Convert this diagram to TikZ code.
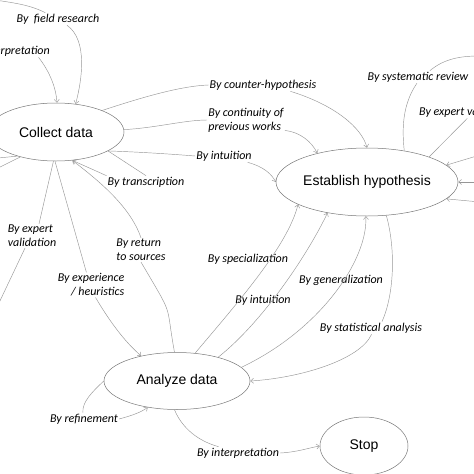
\documentclass[tikz,border=0pt]{standalone}
\usepackage{fontspec}
\setmainfont{Liberation Sans}
\newfontfamily\tagfont{Carlito}
\usetikzlibrary{shapes.geometric,arrows.meta}
\definecolor{rimgray}{RGB}{120,120,120}
\definecolor{wiregray}{RGB}{150,150,150}

\begin{document}
\begin{tikzpicture}[x=1pt,y=-1pt,
    stage/.style={ellipse,draw=rimgray,line width=0.5pt,inner sep=0pt,
      font=\fontsize{14}{16}\selectfont},
    tag/.style={inner sep=1pt,font=\tagfont\itshape\fontsize{12}{14}\selectfont},
    wire/.style={draw=wiregray,line width=0.45pt},
    wirearr/.style={wire,-{Straight Barb[length=3pt,width=5pt]}}]
  \useasboundingbox (0,0) rectangle (474,474);
  \clip (0,0) rectangle (474,474);

  \node[stage,minimum width=136pt,minimum height=58pt] (collect) at (56,132) {Collect data};
  \node[stage,minimum width=182pt,minimum height=68pt] (hypo) at (367,182) {Establish hypothesis};
  \node[stage,minimum width=146pt,minimum height=57pt] (analyze) at (177,381) {Analyze data};
  \node[stage,minimum width=88pt,minimum height=58pt] (stop) at (364,446) {Stop};

  \node[tag] (lfield) at (58,19) {By\ \ field research};
  \node[tag,anchor=east] (linterp) at (51,51) {By interpretation};
  \node[tag] (lcounter) at (263,85) {By counter-hypothesis};
  \node[tag,align=left] (lcontin) at (246,120) {By continuity of\\previous works};
  \node[tag] (lintuit) at (224,156) {By intuition};
  \node[tag] (ltrans) at (146,182) {By transcription};
  \node[tag,align=left] (lexpert) at (32,236) {By expert\\validation};
  \node[tag,align=right] (lexper) at (91,285) {By experience\\/ heuristics};
  \node[tag,align=left] (lreturn) at (141,250) {By return\\to sources};
  \node[tag] (lsys) at (418,77) {By systematic review};
  \node[tag,anchor=west] (lexpv) at (418,112) {By expert validation};
  \node[tag] (lspec) at (248,259) {By specialization};
  \node[tag] (lintu) at (263,300) {By intuition};
  \node[tag] (lgen) at (341,280) {By generalization};
  \node[tag] (lstat) at (371,328) {By statistical analysis};
  \node[tag] (lrefine) at (84,419) {By refinement};
  \node[tag] (lfinal) at (238,453) {By interpretation};

  \coordinate (offF) at (-5,0);
  \coordinate (offE) at (-2,305);
  \coordinate (offL1) at (-2,158);
  \coordinate (offL2) at (-2,168);
  \coordinate (offS) at (480,56);
  \coordinate (offR1) at (480,155);
  \coordinate (offR2) at (480,182);
  \coordinate (offR3) at (480,202);

  % around Collect data
  \draw[wire] (offF) .. controls (15,3) and (30,5) .. (lfield);
  \draw[wirearr] (lfield) .. controls (88,40) and (82,80) .. (collect.55);
  \draw[wirearr] (linterp.-12) .. controls (50,72) and (56,88) .. (collect.88);
  \draw[wire] (collect.25) .. controls (140,98) and (180,86) .. (lcounter.west);
  \draw[wirearr] (lcounter.-13) .. controls (335,105) and (362,128) .. (hypo.90);
  \draw[wire] (collect.2) .. controls (155,128) and (185,120) .. (lcontin.west);
  \draw[wirearr] (lcontin.-15) .. controls (300,132) and (312,142) .. (hypo.150);
  \draw[wire] (collect.-20) .. controls (140,152) and (170,154) .. (lintuit.west);
  \draw[wirearr] (lintuit.-15) .. controls (265,167) and (272,175) .. (hypo.west);
  \draw[wire] (collect.-20) -- (ltrans.north);
  \draw[wirearr] (ltrans.north west) -- (collect.300);
  \draw[wire] (analyze.95) .. controls (165,300) and (175,320) .. (lreturn.south);
  \draw[wirearr] (lreturn.north) .. controls (130,205) and (95,178) .. (collect.300);
  \draw[wire] (collect.265) -- (lexpert.60);
  \draw[wire] (lexpert.-120) -- (offE);
  \draw[wire] (collect.268) -- (lexper.110);
  \draw[wirearr] (lexper.-70) .. controls (110,322) and (125,342) .. (analyze.145);
  \draw[wire] (collect.212) -- (offL1);
  \draw[wire] (collect.215) -- (offL2);

  % around Establish hypothesis
  \draw[wire] (lsys.28) .. controls (445,58) and (462,56) .. (offS);
  \draw[wire] (lsys.-100) .. controls (402,105) and (402,130) .. (hypo.40);
  \draw[wire] (lexpv.south) -- (hypo.22);
  \draw[wirearr] (offR1) -- (hypo.12);
  \draw[wirearr] (offR2) -- (hypo.east);
  \draw[wirearr] (offR3) -- (hypo.-12);
  \draw[wirearr] (analyze.57) .. controls (240,300) and (288,245) .. (hypo.198);
  \draw[wirearr] (analyze.30) .. controls (265,320) and (310,250) .. (hypo.218);
  \draw[wirearr] (analyze.12) .. controls (320,330) and (368,260) .. (hypo.268);
  \draw[wire] (hypo.-60) .. controls (396,250) and (394,295) .. (lstat.30);
  \draw[wirearr] (lstat.-85) .. controls (360,360) and (300,378) .. (analyze.east);

  % around Analyze data
  \draw[wire] (analyze.west) .. controls (92,392) and (82,402) .. (lrefine.100);
  \draw[wirearr] (lrefine.east) .. controls (130,416) and (140,413) .. (analyze.222);
  \draw[wire] (analyze.-95) .. controls (182,428) and (198,441) .. (lfinal.162);
  \draw[wirearr] (lfinal.east) .. controls (298,452) and (308,448) .. (stop.west);
\end{tikzpicture}
\end{document}
